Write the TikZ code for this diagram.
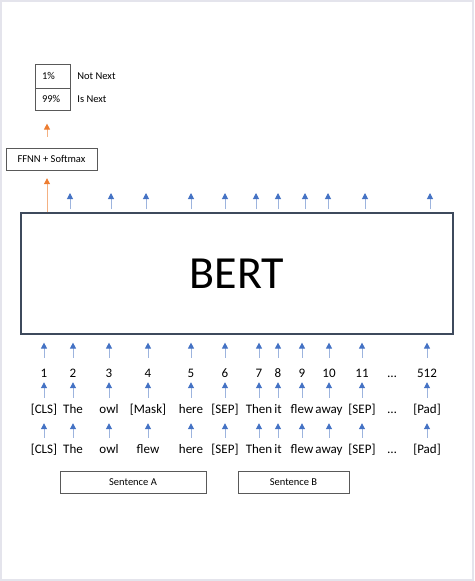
\documentclass[tikz,border=0pt]{standalone}
\usepackage{fontspec}
\setmainfont{Carlito}
\usetikzlibrary{positioning,arrows.meta}
\definecolor{headblue}{HTML}{4472C4}
\definecolor{shaftblue}{HTML}{9DB4DE}
\definecolor{headorange}{HTML}{ED7D31}
\definecolor{shaftorange}{HTML}{F4B183}
\definecolor{framegray}{HTML}{E4E4EC}
\definecolor{bertline}{HTML}{3E4A5C}

\begin{document}
\begin{tikzpicture}[
    x=1pt, y=-1pt,
    box/.style={
        rectangle, draw=black!65, inner sep=0pt,
        font=\fontsize{10.5}{12}\selectfont
    },
    probbox/.style={box, minimum width=35pt, text width=21pt, inner xsep=7pt, align=left},
    lbl/.style={inner sep=0pt, font=\fontsize{10.5}{12}\selectfont},
    tok/.style={inner sep=0pt, text height=9pt, text depth=3pt, anchor=base,
        font=\fontsize{13}{15}\selectfont},
    arrow/.style={-{Triangle[length=6pt, width=6pt, color=headblue]}, shaftblue, line width=1pt},
    oarrow/.style={-{Triangle[length=6pt, width=6pt, color=headorange]}, shaftorange, line width=1pt}
]
\useasboundingbox (0,0) rectangle (474,581);
\draw[framegray, line width=2pt] (1,1) rectangle (473,580);

% model and heads
\node[draw=bertline, line width=1.2pt, minimum width=432pt, minimum height=121pt,
      inner sep=0pt, font=\fontsize{46}{50}\selectfont] (bert) at (237,273.5) {BERT};
\node[box, minimum width=91pt, minimum height=22pt] (ffnn) at (51.5,159) {FFNN + Softmax};
\node[probbox, minimum height=24pt] (pnot) at (52.5,76) {1\%};
\node[probbox, minimum height=22pt, below=0pt of pnot] (pis) {99\%};
\node[lbl, right=7pt of pnot] (lnot) {Not Next};
\node[lbl, right=7pt of pis] (lis) {Is Next};

\coordinate (o1) at (47,0);
\draw[oarrow, shorten >=8pt] (bert.north -| o1) -- (ffnn.south -| o1);
\draw[oarrow, shorten <=11pt, shorten >=13pt] (ffnn.north -| o1) -- (pis.south -| o1);

% outputs above BERT
\foreach \x [count=\i from 2] in {70,111,146,191,225,256,278,305,328,365,430} {
    \coordinate (t\i) at (\x,193);
    \draw[arrow, shorten <=3pt] (t\i |- bert.north) -- (t\i);
}

% positions, masked tokens, input tokens
\foreach \x/\num/\ta/\tb [count=\i] in {44/1/[CLS]/[CLS], 73/2/The/The, 109/3/owl/owl,
        148/4/[Mask]/flew, 191/5/here/here, 225/6/[SEP]/[SEP], 259/7/Then/Then,
        278/8/it/it, 302/9/flew/flew, 329/10/away/away, 362/11/[SEP]/[SEP],
        427/512/[Pad]/[Pad]} {
    \node[tok] (n\i) at (\x,377.5) {\num};
    \node[tok] (a\i) at (\x,413) {\ta};
    \node[tok] (b\i) at (\x,453) {\tb};
    \draw[arrow, shorten <=10.5pt, shorten >=8pt] (n\i) -- (n\i |- bert.south);
    \draw[arrow, shorten <=6pt, shorten >=1.5pt] (a\i) -- (n\i);
    \draw[arrow, shorten <=6pt, shorten >=7pt] (b\i) -- (a\i);
}
\node[tok] (ndots) at (392,377.5) {…};
\node[tok] (adots) at (392,413) {…};
\node[tok] (bdots) at (392,453) {…};

\node[box, minimum width=146pt, minimum height=22pt] (senta) at (133,482) {Sentence A};
\node[box, minimum width=111pt, minimum height=22pt] (sentb) at (293.5,482) {Sentence B};
\end{tikzpicture}
\end{document}
